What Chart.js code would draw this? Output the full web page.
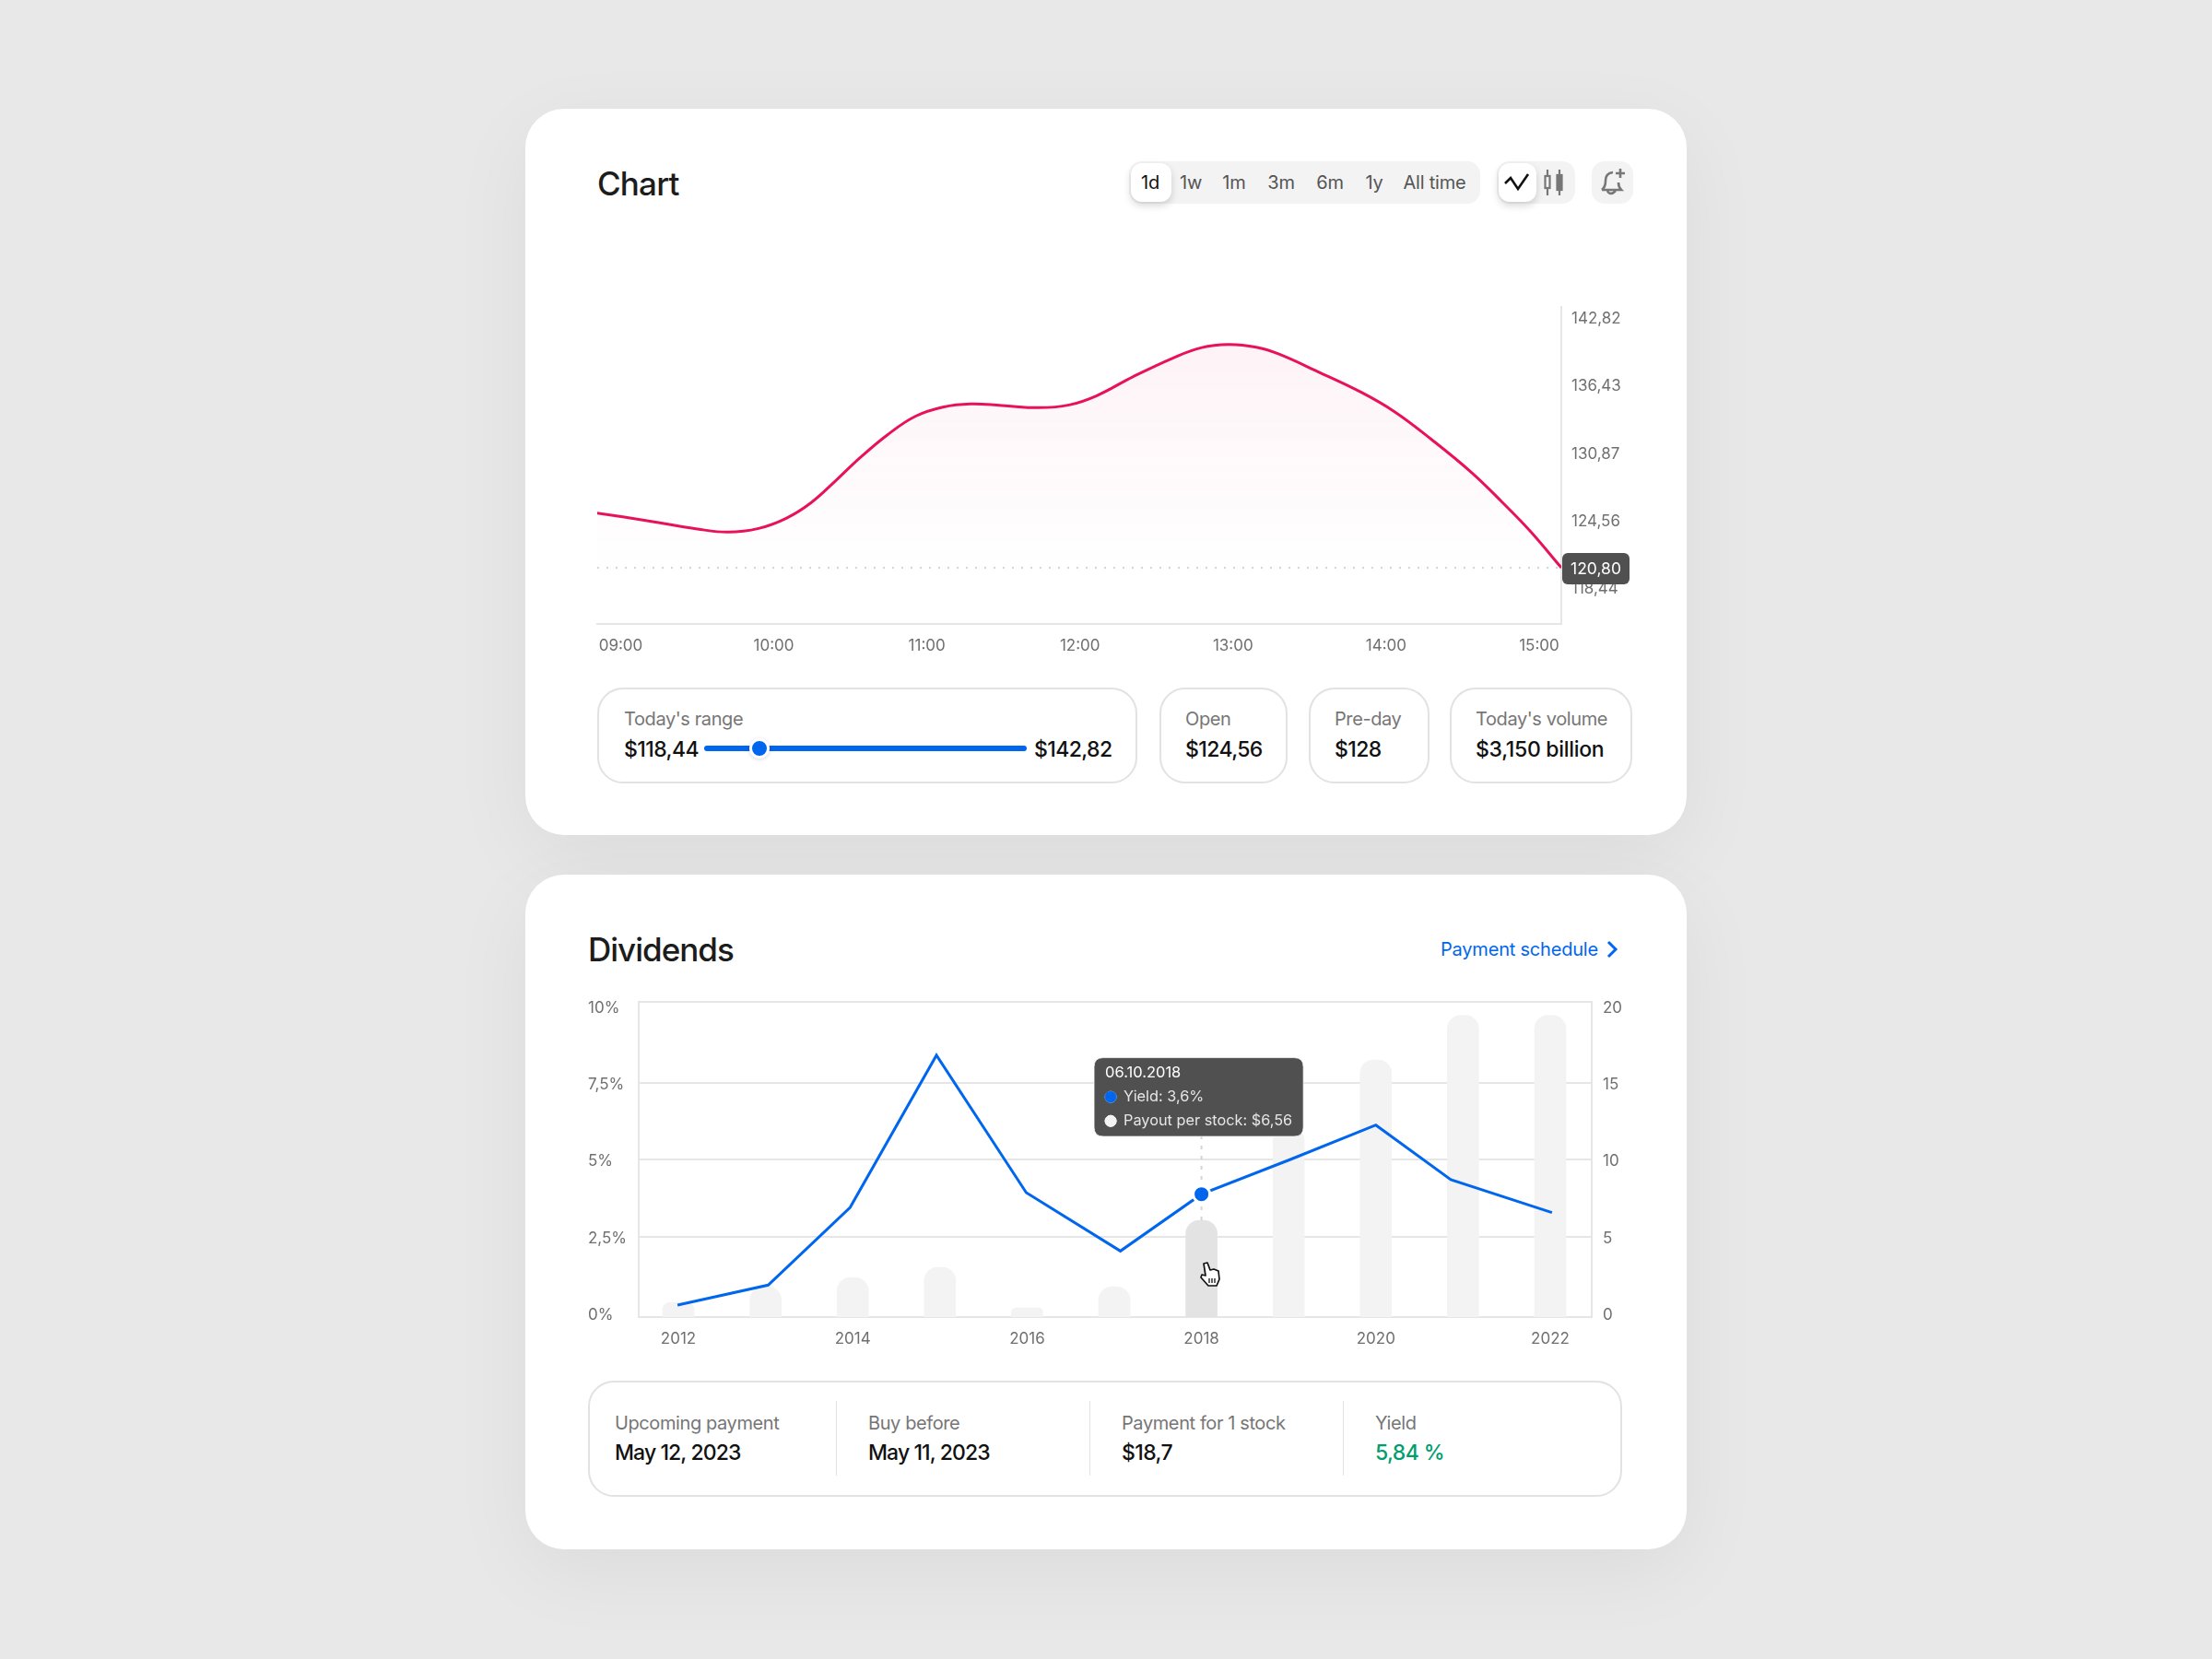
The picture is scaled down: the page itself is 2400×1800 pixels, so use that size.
<!DOCTYPE html>
<html><head><meta charset="utf-8">
<script src="https://cdn.jsdelivr.net/npm/chart.js@4"></script>
<style>
html,body{margin:0;padding:0;width:2400px;height:1800px;background:#e8e8e8;overflow:hidden;font-family:Inter,"Noto Sans",sans-serif;}
.abs,.t{position:absolute}
.t{white-space:nowrap;transform:translateY(-50%);line-height:1;letter-spacing:-.2px}
.c{transform:translate(-50%,-50%)}
.card{position:absolute;left:570px;width:1260px;background:#fff;border-radius:42px;box-shadow:0 24px 90px rgba(0,0,0,.055)}
.box{position:absolute;box-sizing:border-box;border:2px solid #e2e2e2;border-radius:28px;background:#fff}
.lab{font-size:20px;color:#767676;letter-spacing:-.4px}
.val{font-size:23px;color:#111;font-weight:500;letter-spacing:-.6px}
.seg{position:absolute;background:#f3f3f3;border-radius:14px}
.sel{position:absolute;background:#fff;border-radius:12px;box-shadow:0 4px 8px rgba(0,0,0,.16)}
.tab{font-size:20px;color:#555}
canvas{position:absolute}
</style></head><body>
<div class="card" style="top:118px;height:788px"></div>
<div class="card" style="top:949px;height:732px"></div>

<div class="t" style="left:648px;top:199px;font-size:35px;font-weight:500;color:#1c1c1c;letter-spacing:-.8px">Chart</div>
<div class="seg" style="left:1225px;top:175px;width:381px;height:46px"></div>
<div class="sel" style="left:1227px;top:177px;width:44px;height:42px"></div>
<div class="t c tab" style="left:1248px;top:198px;color:#111">1d</div>
<div class="t c tab" style="left:1292px;top:198px">1w</div>
<div class="t c tab" style="left:1339px;top:198px">1m</div>
<div class="t c tab" style="left:1390px;top:198px">3m</div>
<div class="t c tab" style="left:1443px;top:198px">6m</div>
<div class="t c tab" style="left:1491px;top:198px">1y</div>
<div class="t c tab" style="left:1556.5px;top:198px">All time</div>
<div class="seg" style="left:1624px;top:175px;width:85px;height:46px"></div>
<div class="sel" style="left:1626px;top:177px;width:41px;height:42px"></div>
<svg class="abs" style="left:1630px;top:186px" width="32" height="24" viewBox="0 0 32 24" fill="none" stroke="#111" stroke-width="2.6"><path d="M3 13 L9 7 L17 19 L28 3"/></svg>
<svg class="abs" style="left:1674px;top:182px" width="26" height="32" viewBox="0 0 26 32" fill="none" stroke="#777" stroke-width="2.2"><path d="M5 2V30"/><rect x="2.5" y="9" width="5" height="13" fill="#f3f3f3"/><path d="M18 2V30"/><rect x="15.5" y="8" width="5" height="16" fill="#777"/></svg>
<div class="seg" style="left:1727px;top:175px;width:45px;height:46px"></div>
<svg class="abs" style="left:1733px;top:181px" width="34" height="34" viewBox="0 0 34 34" fill="none" stroke="#777" stroke-width="2.6"><path d="M5 25 Q9 22 9 15 Q9 7 17 6"/><path d="M5 25H26 Q23 22 23 17"/><path d="M11 26 Q14 32 20 26"/><path d="M25 2V12M20 7H30"/></svg>

<canvas id="priceChart" width="1140" height="400" style="left:640px;top:320px;width:1140px;height:400px"></canvas>

<div class="box" style="left:648px;top:746px;width:586px;height:104px"></div>
<div class="box" style="left:1258px;top:746px;width:139px;height:104px"></div>
<div class="box" style="left:1420px;top:746px;width:131px;height:104px"></div>
<div class="box" style="left:1573px;top:746px;width:198px;height:104px"></div>
<div class="t lab" style="left:677px;top:780px">Today's range</div>
<div class="t val" style="left:677px;top:813px">$118,44</div>
<div class="abs" style="left:764px;top:809px;width:350px;height:6px;border-radius:3px;background:#0066ee"></div>
<div class="abs" style="left:813px;top:801px;width:16px;height:16px;background:#0066ee;border-radius:50%;border:3px solid #fff;box-shadow:0 1px 4px rgba(0,0,0,.15)"></div>
<div class="t val" style="left:1122px;top:813px">$142,82</div>
<div class="t lab" style="left:1286px;top:780px">Open</div>
<div class="t val" style="left:1286px;top:813px">$124,56</div>
<div class="t lab" style="left:1448px;top:780px">Pre-day</div>
<div class="t val" style="left:1448px;top:813px">$128</div>
<div class="t lab" style="left:1601px;top:780px">Today's volume</div>
<div class="t val" style="left:1601px;top:813px;letter-spacing:-.3px">$3,150 billion</div>

<div class="t" style="left:638px;top:1030px;font-size:35px;font-weight:500;color:#1c1c1c;letter-spacing:-1px">Dividends</div>
<div class="t" style="left:1563px;top:1030px;font-size:20px;color:#0066ee">Payment schedule</div>
<svg class="abs" style="left:1741px;top:1020px" width="16" height="20" viewBox="0 0 16 20" fill="none" stroke="#0066ee" stroke-width="3"><path d="M4 2L12 10L4 18"/></svg>

<canvas id="divChart" width="1170" height="420" style="left:630px;top:1070px;width:1170px;height:420px"></canvas>

<svg class="abs" style="left:1301px;top:1369px" width="24" height="28" viewBox="0 0 24 28"><path d="M5 2 L9 1 L12 9 L16 8 L21 10 L22 19 L19 26 L10 26 L2 17 L3 14 L7 15 Z" fill="#fff" stroke="#111" stroke-width="1.7" stroke-linejoin="round"/><path d="M11 18V23M14 18V23M17 18V23" stroke="#111" stroke-width="1.3"/></svg>

<div class="box" style="left:638px;top:1498px;width:1122px;height:126px"></div>
<div class="abs" style="left:907px;top:1520px;width:1px;height:81px;background:#e2e2e2"></div>
<div class="abs" style="left:1182px;top:1520px;width:1px;height:81px;background:#e2e2e2"></div>
<div class="abs" style="left:1457px;top:1520px;width:1px;height:81px;background:#e2e2e2"></div>
<div class="t lab" style="left:667px;top:1544px">Upcoming payment</div>
<div class="t val" style="left:667px;top:1576px;letter-spacing:-.9px">May 12, 2023</div>
<div class="t lab" style="left:942px;top:1544px">Buy before</div>
<div class="t val" style="left:942px;top:1576px;letter-spacing:-.9px">May 11, 2023</div>
<div class="t lab" style="left:1217px;top:1544px">Payment for 1 stock</div>
<div class="t val" style="left:1217px;top:1576px">$18,7</div>
<div class="t lab" style="left:1492px;top:1544px">Yield</div>
<div class="t val" style="left:1492px;top:1576px;color:#009e6f">5,84 %</div>

<script>
// ---- Price chart data ----
const priceHours = [8.846,9.2,9.501,9.701,9.9,10.081,10.243,10.404,10.563,10.743,10.924,11.104,11.285,11.49,11.731,11.929,12.11,12.351,12.61,12.79,12.971,13.152,13.296,13.555,13.838,14.055,14.296,14.561,14.759,14.94,15.145];
const priceValues = [125.21,124.46,123.77,123.49,123.82,124.74,126.14,128.13,130.2,132.28,133.94,134.77,135.06,134.92,134.72,134.97,135.81,137.55,139.22,140.13,140.43,140.18,139.58,137.97,136.11,134.36,131.86,128.84,126.18,123.6,120.27];
const hourTicks = [9,10,11,12,13,14,15];
const priceTickLabels = ['118,44','124,56','130,87','136,43','142,82'];
const priceTickValues = [118.44,124.535,130.63,136.725,142.82];
const currentPriceLabel = '120,80';
const currentPrice = 120.27;

// ---- Dividend chart data ----
const barYears = [2012,2013,2014,2015,2016,2017,2018,2019,2020,2021,2022];
const payoutValues = [0.72,1.74,2.34,3.0,0.36,1.74,6.06,12.1,16.5,19.4,19.4];
const yieldDates = [2011.99,2013.03,2013.97,2014.96,2015.99,2017.07,2018.0,2019.02,2020.0,2020.86,2022.02];
const yieldValues = [0.27,0.92,3.45,8.4,3.93,2.03,3.88,5.01,6.13,4.35,3.28];
const yearTicks = [2012,2014,2016,2018,2020,2022];
const yieldTicks = [0,2.5,5,7.5,10];
const yieldTickLabels = ['0%','2,5%','5%','7,5%','10%'];
const payoutTicks = [0,5,10,15,20];
const focusIndex = 6;
const tooltipTitle = '06.10.2018';
const tooltipLines = ['Yield: 3,6%','Payout per stock: $6,56'];
const guideYields = [3.03,5.76];

const FONT = 'Inter, "Noto Sans", sans-serif';
const GREY = '#6f6f6f', RULE = '#e6e6e6', BLUE = '#0066ee', PINK = '#e8125c';
Chart.defaults.font.family = FONT;
Chart.defaults.animation = false;

function fixBox(prop, size){
  return ax => {
    ax[prop] = size;
    ax.paddingTop = ax.paddingBottom = ax.paddingLeft = ax.paddingRight = 0;
  };
}

const priceTag = {
  id:'priceTag',
  afterDraw(chart){
    const {ctx, scales:{y}, chartArea:a} = chart;
    const py = y.getPixelForValue(currentPrice);
    ctx.save();
    ctx.fillStyle = '#505050';
    ctx.beginPath();
    ctx.roundRect(a.right+1, py-16, 73, 34, 6);
    ctx.fill();
    ctx.fillStyle = '#fff';
    ctx.font = '17.5px '+FONT;
    ctx.textAlign = 'center'; ctx.textBaseline = 'middle';
    ctx.fillText(currentPriceLabel, a.right+37.5, py+2);
    ctx.restore();
  }
};

new Chart(document.getElementById('priceChart'), {
  type:'line',
  data:{ datasets:[
    { label:'Price', data:priceHours.map((h,i)=>({x:h,y:priceValues[i]})),
      borderColor:PINK, borderWidth:3, pointRadius:0, tension:0.4, order:1,
      fill:{value:currentPrice},
      backgroundColor(ctx){
        const sc = ctx.chart.scales.y; if(!sc || !ctx.chart.chartArea) return 'transparent';
        const g = ctx.chart.ctx.createLinearGradient(0,sc.getPixelForValue(140.43),0,sc.getPixelForValue(currentPrice));
        g.addColorStop(0,'rgba(232,18,92,0.05)');
        g.addColorStop(1,'rgba(232,18,92,0)');
        return g;
      } },
    { label:'Current', data:[{x:priceHours[0],y:currentPrice},{x:priceHours[priceHours.length-1],y:currentPrice}],
      borderColor:'#d4d4d4', borderWidth:2, borderDash:[2,8], pointRadius:0, order:2 }
  ]},
  options:{
    responsive:false, events:[],
    layout:{padding:{left:8,top:13,right:0,bottom:0}},
    plugins:{legend:{display:false},tooltip:{enabled:false}},
    scales:{
      x:{ type:'linear', min:8.8465, max:15.1445,
        grid:{display:false}, border:{color:RULE,width:2},
        afterBuildTicks:ax=>{ax.ticks=hourTicks.map(v=>({value:v}));},
        afterFit:fixBox('height',43),
        ticks:{color:GREY,font:{size:17},padding:6,maxRotation:0,autoSkip:false,
          callback:v=>String(v).padStart(2,'0')+':00'} },
      y:{ position:'right', min:115.195, max:143.82,
        grid:{display:false,drawTicks:false}, border:{color:RULE,width:2},
        afterBuildTicks:ax=>{ax.ticks=priceTickValues.map(v=>({value:v}));},
        afterFit:fixBox('width',86),
        ticks:{color:GREY,font:{size:17},padding:11,labelOffset:1,autoSkip:false,crossAlign:'near',
          callback:(v,i)=>priceTickLabels[i]} }
    }
  },
  plugins:[priceTag]
});

Chart.Tooltip.positioners.fixedAbove = function(){
  const {x,y} = this.chart.scales;
  return {x:x.getPixelForValue(barYears[focusIndex])-3, y:y.getPixelForValue(guideYields[1])};
};

const yMin = -0.12, yMax = 10.155;
const divChart = new Chart(document.getElementById('divChart'), {
  data:{ datasets:[
    { type:'bar', label:'Payout', yAxisID:'y1', order:3,
      data:barYears.map((yr,i)=>({x:yr,y:payoutValues[i]})),
      base:yMin*2, barThickness:34,
      backgroundColor:c=>c.dataIndex===focusIndex?'#e3e3e3':'#f3f3f3',
      hoverBackgroundColor:c=>c.dataIndex===focusIndex?'#e3e3e3':'#f3f3f3',
      borderRadius:{topLeft:15,topRight:15,bottomLeft:0,bottomRight:0}, borderSkipped:false },
    { type:'line', label:'Guide', yAxisID:'y', order:2,
      data:guideYields.map(v=>({x:yieldDates[focusIndex],y:v})),
      borderColor:'#d4d4d4', borderWidth:2, borderDash:[4,7], pointRadius:0 },
    { type:'line', label:'Yield', yAxisID:'y', order:1,
      data:yieldDates.map((d,i)=>({x:d,y:yieldValues[i]})),
      borderColor:BLUE, borderWidth:3, tension:0,
      pointRadius:c=>c.dataIndex===focusIndex?9:0,
      pointHoverRadius:c=>c.dataIndex===focusIndex?9:0,
      pointBackgroundColor:BLUE, pointHoverBackgroundColor:BLUE,
      pointBorderColor:'#fff', pointHoverBorderColor:'#fff',
      pointBorderWidth:3, pointHoverBorderWidth:3 }
  ]},
  options:{
    responsive:false, events:[],
    layout:{padding:{left:8,top:16.5,right:0,bottom:0}},
    plugins:{ legend:{display:false},
      tooltip:{ position:'fixedAbove', xAlign:'center', yAlign:'bottom', caretSize:0, caretPadding:0,
        backgroundColor:'#505050', cornerRadius:10, borderColor:'rgba(255,255,255,.7)', borderWidth:1,
        padding:{x:12,y:7}, titleColor:'#fff', bodyColor:'#e6e6e6',
        titleFont:{size:16.5,weight:'400'}, bodyFont:{size:16.3},
        titleMarginBottom:6, bodySpacing:6.5, boxPadding:6, boxWidth:12, boxHeight:12, usePointStyle:true,
        callbacks:{
          title:()=>tooltipTitle,
          label:c=>tooltipLines[c.dataset.label==='Yield'?0:1],
          labelColor:c=>{const col=c.dataset.label==='Yield'?BLUE:'#f3f3f3';return {borderColor:col,backgroundColor:col};},
          labelPointStyle:()=>({pointStyle:'circle',rotation:0})
        } } },
    scales:{
      x:{ type:'linear', offset:false, min:2011.545, max:2022.476,
        grid:{display:false,offset:false}, border:{color:RULE,width:2},
        afterBuildTicks:ax=>{ax.ticks=yearTicks.map(v=>({value:v}));},
        afterFit:fixBox('height',61),
        ticks:{color:GREY,font:{size:17},padding:6,maxRotation:0,autoSkip:false,callback:v=>String(v)} },
      y:{ position:'left', min:yMin, max:yMax,
        border:{color:RULE,width:2},
        grid:{drawTicks:false,lineWidth:2,
          color:c=>(c.tick.value===0||c.tick.value===10||c.tick.value===yMin)?'transparent':RULE},
        afterBuildTicks:ax=>{ax.ticks=[yMin,...yieldTicks,yMax].map(v=>({value:v}));},
        afterFit:fixBox('width',55),
        ticks:{color:GREY,font:{size:17},padding:0,labelOffset:2,autoSkip:false,crossAlign:'far',
          callback:v=>{const i=yieldTicks.indexOf(v);return i<0?'':yieldTickLabels[i];}} },
      y1:{ position:'right', min:yMin*2, max:yMax*2,
        border:{color:RULE,width:2}, grid:{display:false,drawTicks:false},
        afterBuildTicks:ax=>{ax.ticks=payoutTicks.map(v=>({value:v}));},
        afterFit:fixBox('width',73),
        ticks:{color:GREY,font:{size:17},padding:12,labelOffset:2,autoSkip:false,crossAlign:'near',callback:v=>String(v)} }
    }
  }
});
const activeEls = [{datasetIndex:2,index:focusIndex},{datasetIndex:0,index:focusIndex}];
divChart.setActiveElements(activeEls);
divChart.tooltip.setActiveElements(activeEls,{x:0,y:0});
divChart.update();
</script>
</body></html>
